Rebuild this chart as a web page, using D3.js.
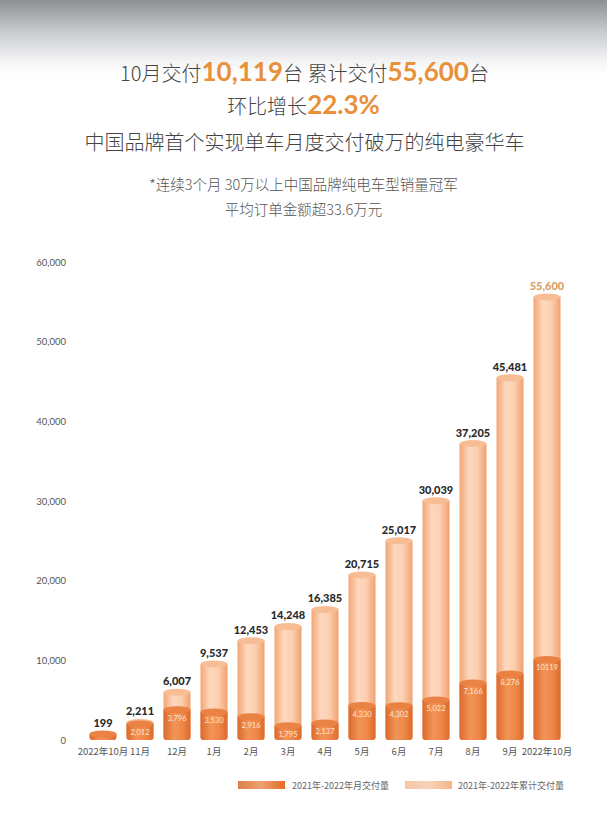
<!DOCTYPE html>
<html><head><meta charset="utf-8">
<script src="https://cdn.jsdelivr.net/npm/d3@7/dist/d3.min.js"></script>
<style>body{margin:0;background:#fff}svg{display:block}</style>
</head><body>
<script>
const categories = ["2022年10月","11月","12月","1月","2月","3月","4月","5月","6月","7月","8月","9月","2022年10月"];
const monthly = [199,2012,3796,3530,2916,1795,2137,4330,4302,5022,7166,8276,10119];
const cumulative = [199,2211,6007,9537,12453,14248,16385,20715,25017,30039,37205,45481,55600];
const yTicks = [0,10000,20000,30000,40000,50000,60000];
const legendLabels = ["2021年-2022年月交付量","2021年-2022年累计交付量"];

const W=607,H=815;
const svg=d3.select("body").append("svg").attr("width",W).attr("height",H);
const defs=svg.append("defs");
const cjk="'Noto Sans CJK SC','Noto Sans',sans-serif";
const num="Lato,'Noto Sans',sans-serif";

function grad(id,stops,vertical){
  const g=defs.append("linearGradient").attr("id",id).attr("x1",0).attr("y1",0).attr("x2",vertical?0:1).attr("y2",vertical?1:0);
  stops.forEach(s=>g.append("stop").attr("offset",s[0]).attr("stop-color",s[1]));
}
grad("bg",[[0,"#8d8f94"],[0.4,"#c6c7ca"],[0.8,"#f3f3f4"],[1,"#ffffff"]],true);
grad("lightG",[[0,"#f2a574"],[0.35,"#fdd8be"],[0.65,"#fcd0b2"],[1,"#f1a06e"]]);
grad("darkG",[[0,"#db6a2b"],[0.4,"#f29457"],[0.7,"#ee8747"],[1,"#dc6b2c"]]);
grad("legD",[[0,"#d9804a"],[0.5,"#eea070"],[1,"#e46a25"]]);
grad("legL",[[0,"#f3c7aa"],[0.5,"#f8d2b8"],[1,"#f6b68c"]]);

svg.append("rect").attr("x",0).attr("y",0).attr("width",W).attr("height",75).attr("fill","url(#bg)");

// Titles
const orange="#e8903a", dark="#444";
const t1=svg.append("text").attr("x",W/2+1).attr("y",81).attr("text-anchor","middle").attr("font-family",cjk).attr("font-weight",300).attr("fill",dark);
t1.append("tspan").attr("font-size",20).text("10月交付");
t1.append("tspan").attr("font-size",26).attr("font-weight",700).attr("fill",orange).attr("font-family",num).text("10,119");
t1.append("tspan").attr("font-size",20).text("台 累计交付");
t1.append("tspan").attr("font-size",26).attr("font-weight",700).attr("fill",orange).attr("font-family",num).text("55,600");
t1.append("tspan").attr("font-size",20).text("台");

const t2=svg.append("text").attr("x",W/2).attr("y",114).attr("text-anchor","middle").attr("font-family",cjk).attr("font-weight",300).attr("fill",dark);
t2.append("tspan").attr("font-size",20).text("环比增长");
t2.append("tspan").attr("font-size",26).attr("font-weight",700).attr("fill",orange).attr("font-family",num).text("22.3%");

svg.append("text").attr("x",W/2+1).attr("y",150).attr("text-anchor","middle").attr("font-family",cjk).attr("font-weight",300).attr("font-size",20).attr("fill",dark).text("中国品牌首个实现单车月度交付破万的纯电豪华车");
svg.append("text").attr("x",W/2).attr("y",190).attr("text-anchor","middle").attr("font-family",cjk).attr("font-weight",300).attr("font-size",14.5).attr("fill","#555").text("*连续3个月 30万以上中国品牌纯电车型销量冠军");
svg.append("text").attr("x",W/2).attr("y",215).attr("text-anchor","middle").attr("font-family",cjk).attr("font-weight",300).attr("font-size",14.5).attr("fill","#555").text("平均订单金额超33.6万元");

// Scales
const x=d3.scaleBand().domain(d3.range(categories.length)).range([84.5,565.5]).paddingInner(0.27).paddingOuter(0.135);
const y=d3.scaleLinear().domain([0,60000]).range([740,262]);
const bw=x.bandwidth(), ry=3.5;

// Y axis
const yAxis=svg.append("g").attr("transform","translate(66,0)").call(d3.axisLeft(y).tickValues(yTicks).tickSize(0).tickPadding(0).tickFormat(d3.format(",")));
yAxis.select(".domain").remove();
yAxis.selectAll("text").attr("font-family",num).attr("font-size",9.5).attr("fill","#555");

// X axis
const xAxis=svg.append("g").attr("transform","translate(0,745)").call(d3.axisBottom(x).tickSize(0).tickPadding(3).tickFormat(i=>categories[i]));
xAxis.select(".domain").remove();
xAxis.selectAll("text").attr("font-family",cjk).attr("font-size",9.5).attr("fill","#555");

function cylinder(g,cx,v,fill,cap,minH){
  const top=Math.min(y(v),y(0)-minH), bot=y(0), r=3;
  const l=cx-bw/2, rr=cx+bw/2;
  const p=d3.path();
  p.moveTo(l,top);p.lineTo(rr,top);p.lineTo(rr,bot-r);p.quadraticCurveTo(rr,bot,rr-r,bot);
  p.lineTo(l+r,bot);p.quadraticCurveTo(l,bot,l,bot-r);p.closePath();
  g.append("path").attr("d",p.toString()).attr("fill",fill);
  g.append("ellipse").attr("cx",cx).attr("cy",top).attr("rx",bw/2).attr("ry",ry).attr("fill",cap);
  return top;
}

const bars=svg.append("g");
categories.forEach((c,i)=>{
  const cx=x(i)+bw/2;
  const g=bars.append("g");
  let top;
  if(i>0){ top=cylinder(g,cx,cumulative[i],"url(#lightG)","#f7bd95",6); }
  const dt=cylinder(g,cx,monthly[i],"url(#darkG)","#ea8244",6);
  if(i===0) top=dt;
  g.append("text").attr("x",cx).attr("y",top-7).attr("text-anchor","middle").attr("font-family",num).attr("font-weight",900).attr("font-size",11)
    .attr("fill",i===categories.length-1?"#d9a15f":"#2a2a2a").text(d3.format(",")(cumulative[i]));
  if(i>0){
    g.append("text").attr("x",cx).attr("y",Math.min(dt+11,737)).attr("text-anchor","middle").attr("font-family",num).attr("font-size",7.5)
      .attr("fill","#fde5d3").text(i===categories.length-1?String(monthly[i]):d3.format(",")(monthly[i]));
  }
});

// Legend
const lg=svg.append("g");
lg.append("rect").attr("x",238).attr("y",781).attr("width",47).attr("height",8).attr("fill","url(#legD)");
lg.append("text").attr("x",292).attr("y",788.5).attr("font-family",cjk).attr("font-size",9).attr("fill","#666").text(legendLabels[0]);
lg.append("rect").attr("x",405).attr("y",781).attr("width",47).attr("height",8).attr("fill","url(#legL)");
lg.append("text").attr("x",458).attr("y",788.5).attr("font-family",cjk).attr("font-size",9).attr("fill","#666").text(legendLabels[1]);
</script>
</body></html>
